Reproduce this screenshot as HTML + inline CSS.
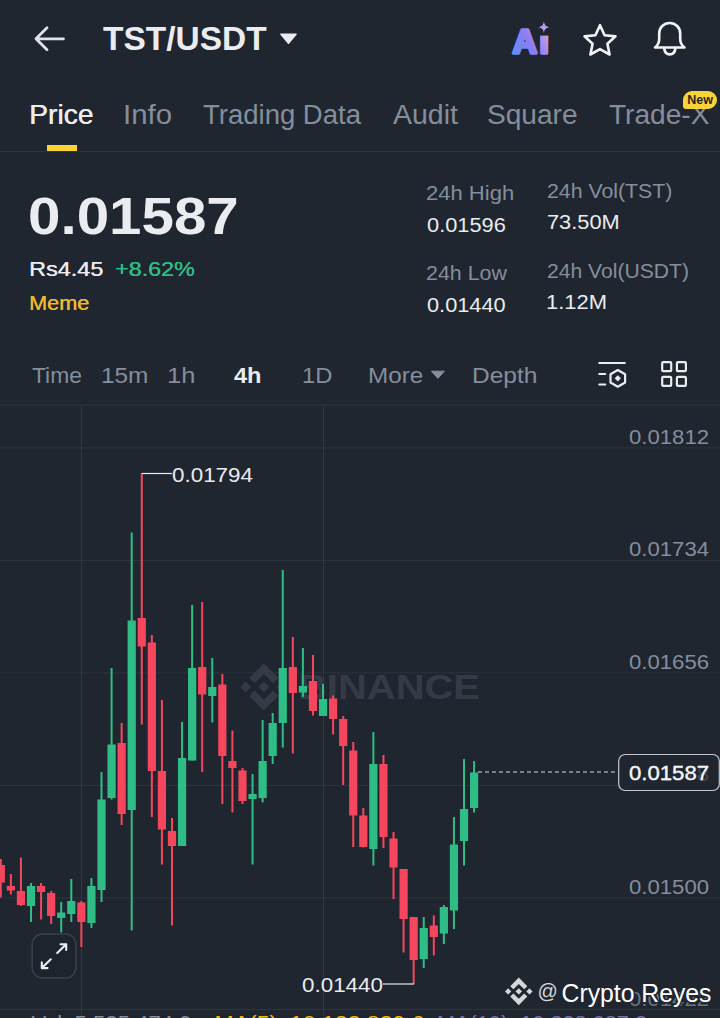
<!DOCTYPE html>
<html lang="en">
<head>
<meta charset="utf-8">
<title>TST/USDT</title>
<style>
html,body{margin:0;padding:0;}
body{width:720px;height:1018px;overflow:hidden;background:#202630;font-family:"Liberation Sans",sans-serif;color:#eaecef;position:relative;}
.abs{position:absolute;white-space:nowrap;line-height:1;}
.gray{color:#848e9c;}
.tab{position:absolute;top:99px;font-size:27px;line-height:30px;color:#848e9c;white-space:nowrap;}
.stat-l{position:absolute;font-size:20px;line-height:20px;color:#848e9c;white-space:nowrap;}
.stat-v{position:absolute;font-size:20px;line-height:20px;color:#eaecef;white-space:nowrap;}
.tt{position:absolute;top:363px;font-size:22px;line-height:24px;color:#848e9c;white-space:nowrap;}
svg{position:absolute;left:0;top:0;}
</style>
</head>
<body>

<!-- header -->
<svg width="720" height="80" viewBox="0 0 720 80">
  <!-- back arrow -->
  <path d="M63.5 38.8H36.5M47 27.8L36 38.8L47 49.8" fill="none" stroke="#dfe2e8" stroke-width="2.800" stroke-linecap="round" stroke-linejoin="round"/>
  <!-- dropdown -->
  <path d="M281 34.200H296L288.500 43.200Z" fill="#eaecef" stroke="#eaecef" stroke-width="1.500" stroke-linejoin="round"/>
  <!-- star -->
  <path d="M600 25.2l4.6 10 10.9 1.2-8.1 7.4 2.2 10.7-9.6-5.4-9.6 5.4 2.2-10.7-8.1-7.4 10.9-1.2z" fill="none" stroke="#f2f3f5" stroke-width="2.6" stroke-linejoin="round"/>
  <!-- bell -->
  <path d="M655 47.5h29.5c-2.6-2-4.3-4.600-4.300-8.500v-5.500c0-6-4.600-10.500-10.500-10.500s-10.500 4.500-10.500 10.500v5.500c0 3.900-1.700 6.500-4.200 8.500z" fill="none" stroke="#f2f3f5" stroke-width="2.6" stroke-linejoin="round"/>
  <path d="M664.200 48.500c.5 3.800 2.600 5.900 5.600 5.900s5.100-2.100 5.600-5.900" fill="none" stroke="#f2f3f5" stroke-width="2.600" stroke-linecap="round"/>
  <!-- AI -->
  <defs>
    <linearGradient id="aig" gradientUnits="userSpaceOnUse" x1="511" y1="54" x2="549" y2="30">
      <stop offset="0" stop-color="#5a92f8"/>
      <stop offset=".5" stop-color="#8c7df2"/>
      <stop offset=".8" stop-color="#b394ea"/>
      <stop offset="1" stop-color="#e6b5cf"/>
    </linearGradient>
  </defs>
  <text x="512.700" y="52.600" font-family="Liberation Sans, sans-serif" font-weight="700" font-size="33.500" fill="url(#aig)" stroke="url(#aig)" stroke-width="3.500" stroke-linejoin="round">A<tspan dx="2.500">i</tspan></text>
  <rect x="537" y="20" width="14" height="15.600" fill="#202630"/>
  <path d="M543.900 21.500c.7 3.700 1.900 4.900 5.600 5.700-3.700.8-4.900 2-5.600 5.700-.7-3.700-1.900-4.900-5.600-5.700 3.700-.8 4.900-2 5.600-5.700z" fill="#b49cf4"/>
</svg>
<div id="t_title" class="abs" style="left:103.00px;top:22.30px;font-size:32.500px;line-height:34px;font-weight:700;color:#eaecef;transform:scaleX(1.0296);transform-origin:0 0;">TST/USDT</div>

<!-- tabs -->
<div id="t_price" class="tab" style="left:29.38px;color:#eaecef;font-weight:400;text-shadow:.4px 0 0 #eaecef;top:99.70px;transform:scaleX(1.0459);transform-origin:0 0;">Price</div>
<div id="t_info" class="tab" style="left:123.31px;top:99.70px;transform:scaleX(1.0888);transform-origin:0 0;">Info</div>
<div id="t_trading" class="tab" style="left:202.83px;top:99.70px;transform:scaleX(1.0186);transform-origin:0 0;">Trading Data</div>
<div id="t_audit" class="tab" style="left:392.79px;top:99.70px;transform:scaleX(1.0554);transform-origin:0 0;">Audit</div>
<div id="t_square" class="tab" style="left:486.78px;top:99.70px;transform:scaleX(1.0404);transform-origin:0 0;">Square</div>
<div id="t_tradex" class="tab" style="left:608.77px;top:99.70px;transform:scaleX(1.0408);transform-origin:0 0;">Trade-X</div>
<div class="abs" style="left:683.200px;top:91.200px;width:33.800px;height:18px;border-radius:9px 9px 9px 3px;background:#f8d33a;color:#2a2618;font-size:12.500px;font-weight:700;line-height:18px;text-align:center;">New</div>
<div class="abs" style="left:47px;top:145px;width:30px;height:6px;background:#fcd535;"></div>
<div class="abs" style="left:0;top:151px;width:720px;height:1px;background:#2d343f;"></div>

<!-- price -->
<div id="t_big" class="abs" style="left:28.49px;top:189px;font-size:52.500px;line-height:54px;font-weight:700;color:#eaecef;transform:scaleX(1.1106);transform-origin:0 0;">0.01587</div>
<div id="t_rs" class="abs" style="left:29.45px;top:256.50px;font-size:21px;line-height:24px;color:#eaecef;text-shadow:.3px 0 0 #eaecef;transform:scaleX(1.1143);transform-origin:0 0;">Rs4.45</div>
<div id="t_pct" class="abs" style="left:115.06px;top:256.50px;font-size:21px;line-height:24px;color:#2ebd85;text-shadow:.3px 0 0 #2ebd85;transform:scaleX(1.1094);transform-origin:0 0;">+8.62%</div>
<div id="t_meme" class="abs" style="left:29.27px;top:291.50px;font-size:20px;line-height:22px;color:#ecba2c;text-shadow:.3px 0 0 #ecba2c;transform:scaleX(1.0827);transform-origin:0 0;">Meme</div>

<!-- stats -->
<div id="t_h24" class="stat-l" style="left:425.88px;top:183.00px;transform:scaleX(1.1013);transform-origin:0 0;">24h High</div>
<div id="t_h24v" class="stat-v" style="left:426.64px;top:214.80px;transform:scaleX(1.0903);transform-origin:0 0;">0.01596</div>
<div id="t_l24" class="stat-l" style="left:426.10px;top:263.00px;transform:scaleX(1.0702);transform-origin:0 0;">24h Low</div>
<div id="t_l24v" class="stat-v" style="left:426.67px;top:294.70px;transform:scaleX(1.0883);transform-origin:0 0;">0.01440</div>
<div id="t_vt" class="stat-l" style="left:546.97px;top:181.00px;transform:scaleX(1.0643);transform-origin:0 0;">24h Vol(TST)</div>
<div id="t_vtv" class="stat-v" style="left:546.68px;top:211.60px;transform:scaleX(1.0900);transform-origin:0 0;">73.50M</div>
<div id="t_vu" class="stat-l" style="left:546.97px;top:261.00px;transform:scaleX(1.0554);transform-origin:0 0;">24h Vol(USDT)</div>
<div id="t_vuv" class="stat-v" style="left:546.15px;top:292.30px;transform:scaleX(1.0985);transform-origin:0 0;">1.12M</div>

<!-- time tabs -->
<div id="t_time" class="tt" style="left:31.60px;top:364.20px;transform:scaleX(1.0375);transform-origin:0 0;">Time</div>
<div id="t_15m" class="tt" style="left:100.81px;top:364.20px;transform:scaleX(1.1073);transform-origin:0 0;">15m</div>
<div id="t_1h" class="tt" style="left:167.05px;top:364.20px;transform:scaleX(1.1574);transform-origin:0 0;">1h</div>
<div id="t_4h" class="tt" style="left:234.30px;color:#eaecef;font-weight:700;top:364.20px;transform:scaleX(1.0712);transform-origin:0 0;">4h</div>
<div id="t_1d" class="tt" style="left:301.69px;top:364.20px;transform:scaleX(1.0804);transform-origin:0 0;">1D</div>
<div id="t_more" class="tt" style="left:367.50px;top:364.20px;transform:scaleX(1.1020);transform-origin:0 0;">More</div>
<div id="t_depth" class="tt" style="left:471.64px;top:364.20px;transform:scaleX(1.1155);transform-origin:0 0;">Depth</div>

<!-- chart -->
<svg width="720" height="1018" viewBox="0 0 720 1018" style="pointer-events:none">
  <!-- more triangle -->
  <path d="M431.400 371.200H444.400L437.900 378.400Z" fill="#848e9c" stroke="#848e9c" stroke-width="1" stroke-linejoin="round"/>
  <!-- icons right of time tabs -->
  <g fill="none" stroke="#eaecef" stroke-width="2.200" stroke-linecap="round" stroke-linejoin="round">
    <path d="M599.300 363H624.800M599.300 374H605.200M599.300 384.500H605.200"/>
    <path d="M617.800 370l7.300 4.200v8.300l-7.300 4.200-7.300-4.200v-8.300z"/>
    <rect x="662.200" y="362.200" width="9" height="9" rx="1"/>
    <rect x="676.900" y="362.200" width="9" height="9" rx="1"/>
    <rect x="662.200" y="376.900" width="9" height="9" rx="1"/>
    <rect x="676.900" y="376.900" width="9" height="9" rx="1"/>
  </g>
  <path d="M617.800 375.200l3.100 3.100-3.100 3.100-3.100-3.100z" fill="#eaecef"/>

  <!-- grid -->
  <g stroke="#2d3540" stroke-width="1">
    <path d="M0 405H720M0 447.900H720M0 560.400H720M0 672.900H720M0 785.400H720M0 897.900H720M0 1009.500H720"/>
    <path d="M81.500 405V1018M323.500 405V1018" stroke="#303843"/>
  </g>

  <!-- watermark -->
  <g fill="#353b46">
    <path transform="translate(240.2 663.3) scale(0.377)" d="M38.171 53.203L62.759 28.616l24.6 24.6 14.3-14.3L62.759 0 23.871 38.903zM0 62.759l14.3-14.3 14.3 14.3-14.3 14.3zM38.171 72.316L62.759 96.903l24.6-24.6 14.308 14.29-.007.008L62.759 125.518 23.871 86.616l-.02-.02zM96.918 62.763l14.3-14.3 14.3 14.3-14.3 14.3zM77.271 62.747h.006L62.759 48.229 52.03 58.958l-1.233 1.232-2.543 2.543-.02.02.02.021 14.505 14.505 14.518-14.518.007-.008z"/>
  </g>
  <text x="298" y="699.400" font-family="Liberation Sans, sans-serif" font-weight="700" font-size="35" fill="#353b46" textLength="182" lengthAdjust="spacingAndGlyphs">BINANCE</text>

  <!-- candles -->
  <rect x="-0.20" y="859" width="2.0" height="38.5" fill="#f6465d"/>
<rect x="-3.30" y="865" width="8.2" height="17.5" fill="#f6465d"/>
<rect x="9.87" y="874" width="2.0" height="20.5" fill="#f6465d"/>
<rect x="6.77" y="886" width="8.2" height="4.5" fill="#f6465d"/>
<rect x="19.94" y="857.5" width="2.0" height="48.5" fill="#f6465d"/>
<rect x="16.84" y="891" width="8.2" height="14.0" fill="#f6465d"/>
<rect x="30.01" y="883" width="2.0" height="39.0" fill="#2ebd85"/>
<rect x="26.91" y="886" width="8.2" height="20.0" fill="#2ebd85"/>
<rect x="40.08" y="883" width="2.0" height="36.5" fill="#f6465d"/>
<rect x="36.98" y="886" width="8.2" height="6.0" fill="#f6465d"/>
<rect x="50.15" y="891" width="2.0" height="33.0" fill="#f6465d"/>
<rect x="47.05" y="893" width="8.2" height="23.0" fill="#f6465d"/>
<rect x="60.22" y="902" width="2.0" height="30.5" fill="#2ebd85"/>
<rect x="57.12" y="912.5" width="8.2" height="5.5" fill="#2ebd85"/>
<rect x="70.29" y="879" width="2.0" height="43.0" fill="#2ebd85"/>
<rect x="67.19" y="901" width="8.2" height="13.0" fill="#2ebd85"/>
<rect x="80.36" y="901" width="2.0" height="46.0" fill="#f6465d"/>
<rect x="77.26" y="902.5" width="8.2" height="19.5" fill="#f6465d"/>
<rect x="90.43" y="878" width="2.0" height="50.0" fill="#2ebd85"/>
<rect x="87.33" y="886" width="8.2" height="37.0" fill="#2ebd85"/>
<rect x="100.50" y="772" width="2.0" height="130.0" fill="#2ebd85"/>
<rect x="97.40" y="799.5" width="8.2" height="90.5" fill="#2ebd85"/>
<rect x="110.57" y="668" width="2.0" height="131.5" fill="#2ebd85"/>
<rect x="107.47" y="744.5" width="8.2" height="53.5" fill="#2ebd85"/>
<rect x="120.64" y="723" width="2.0" height="102.0" fill="#f6465d"/>
<rect x="117.54" y="743" width="8.2" height="71.0" fill="#f6465d"/>
<rect x="130.71" y="532.5" width="2.0" height="398.0" fill="#2ebd85"/>
<rect x="127.61" y="620.5" width="8.2" height="189.5" fill="#2ebd85"/>
<rect x="140.78" y="473" width="2.0" height="251.5" fill="#f6465d"/>
<rect x="137.68" y="618" width="8.2" height="28.5" fill="#f6465d"/>
<rect x="150.85" y="635" width="2.0" height="182.0" fill="#f6465d"/>
<rect x="147.75" y="642.5" width="8.2" height="128.5" fill="#f6465d"/>
<rect x="160.92" y="700" width="2.0" height="164.5" fill="#f6465d"/>
<rect x="157.82" y="771" width="8.2" height="58.5" fill="#f6465d"/>
<rect x="170.99" y="818" width="2.0" height="107.5" fill="#f6465d"/>
<rect x="167.89" y="831" width="8.2" height="15.0" fill="#f6465d"/>
<rect x="181.06" y="722" width="2.0" height="124.0" fill="#2ebd85"/>
<rect x="177.96" y="758" width="8.2" height="88.0" fill="#2ebd85"/>
<rect x="191.13" y="605" width="2.0" height="155.5" fill="#2ebd85"/>
<rect x="188.03" y="668" width="8.2" height="92.5" fill="#2ebd85"/>
<rect x="201.20" y="602" width="2.0" height="170.0" fill="#f6465d"/>
<rect x="198.10" y="667" width="8.2" height="27.5" fill="#f6465d"/>
<rect x="211.27" y="658" width="2.0" height="64.5" fill="#2ebd85"/>
<rect x="208.17" y="687" width="8.2" height="9.0" fill="#2ebd85"/>
<rect x="221.34" y="674" width="2.0" height="130.0" fill="#f6465d"/>
<rect x="218.24" y="684.5" width="8.2" height="71.5" fill="#f6465d"/>
<rect x="231.41" y="730.5" width="2.0" height="82.0" fill="#f6465d"/>
<rect x="228.31" y="761" width="8.2" height="7.0" fill="#f6465d"/>
<rect x="241.48" y="768" width="2.0" height="36.0" fill="#f6465d"/>
<rect x="238.38" y="770.5" width="8.2" height="30.5" fill="#f6465d"/>
<rect x="251.55" y="774" width="2.0" height="90.5" fill="#2ebd85"/>
<rect x="248.45" y="794" width="8.2" height="5.0" fill="#2ebd85"/>
<rect x="261.62" y="720" width="2.0" height="82.5" fill="#2ebd85"/>
<rect x="258.52" y="761" width="8.2" height="37.0" fill="#2ebd85"/>
<rect x="271.69" y="713" width="2.0" height="51.0" fill="#2ebd85"/>
<rect x="268.59" y="723" width="8.2" height="33.0" fill="#2ebd85"/>
<rect x="281.76" y="570" width="2.0" height="177.5" fill="#2ebd85"/>
<rect x="278.66" y="668" width="8.2" height="55.0" fill="#2ebd85"/>
<rect x="291.83" y="637" width="2.0" height="116.5" fill="#f6465d"/>
<rect x="288.73" y="667" width="8.2" height="26.0" fill="#f6465d"/>
<rect x="301.90" y="648" width="2.0" height="49.0" fill="#2ebd85"/>
<rect x="298.80" y="686" width="8.2" height="6.5" fill="#2ebd85"/>
<rect x="311.97" y="655" width="2.0" height="60.5" fill="#f6465d"/>
<rect x="308.87" y="681" width="8.2" height="30.0" fill="#f6465d"/>
<rect x="322.04" y="684" width="2.0" height="32.0" fill="#2ebd85"/>
<rect x="318.94" y="699" width="8.2" height="17.0" fill="#2ebd85"/>
<rect x="332.11" y="695.5" width="2.0" height="39.0" fill="#f6465d"/>
<rect x="329.01" y="698.5" width="8.2" height="20.5" fill="#f6465d"/>
<rect x="342.18" y="716" width="2.0" height="69.0" fill="#f6465d"/>
<rect x="339.08" y="719" width="8.2" height="27.0" fill="#f6465d"/>
<rect x="352.25" y="742" width="2.0" height="105.0" fill="#f6465d"/>
<rect x="349.15" y="750.5" width="8.2" height="65.0" fill="#f6465d"/>
<rect x="362.32" y="808" width="2.0" height="39.5" fill="#f6465d"/>
<rect x="359.22" y="815.5" width="8.2" height="31.5" fill="#f6465d"/>
<rect x="372.39" y="732" width="2.0" height="133.5" fill="#2ebd85"/>
<rect x="369.29" y="764" width="8.2" height="85.0" fill="#2ebd85"/>
<rect x="382.46" y="755" width="2.0" height="93.0" fill="#f6465d"/>
<rect x="379.36" y="764" width="8.2" height="73.0" fill="#f6465d"/>
<rect x="392.53" y="832" width="2.0" height="67.0" fill="#f6465d"/>
<rect x="389.43" y="838.5" width="8.2" height="29.0" fill="#f6465d"/>
<rect x="402.60" y="869" width="2.0" height="83.5" fill="#f6465d"/>
<rect x="399.50" y="869" width="8.2" height="50.0" fill="#f6465d"/>
<rect x="412.67" y="917" width="2.0" height="67.0" fill="#f6465d"/>
<rect x="409.57" y="917" width="8.2" height="43.0" fill="#f6465d"/>
<rect x="422.74" y="917" width="2.0" height="51.0" fill="#2ebd85"/>
<rect x="419.64" y="928" width="8.2" height="31.0" fill="#2ebd85"/>
<rect x="432.81" y="915.5" width="2.0" height="40.0" fill="#f6465d"/>
<rect x="429.71" y="925.5" width="8.2" height="11.5" fill="#f6465d"/>
<rect x="442.88" y="905" width="2.0" height="39.0" fill="#2ebd85"/>
<rect x="439.78" y="907" width="8.2" height="26.5" fill="#2ebd85"/>
<rect x="452.95" y="817" width="2.0" height="112.0" fill="#2ebd85"/>
<rect x="449.85" y="844.5" width="8.2" height="66.0" fill="#2ebd85"/>
<rect x="463.02" y="759" width="2.0" height="106.5" fill="#2ebd85"/>
<rect x="459.92" y="809" width="8.2" height="32.0" fill="#2ebd85"/>
<rect x="473.09" y="761" width="2.0" height="51.5" fill="#2ebd85"/>
<rect x="469.99" y="772.5" width="8.2" height="35.5" fill="#2ebd85"/>

  <!-- high / low labels -->
  <path d="M142 473.500H172" stroke="#eaecef" stroke-width="1.200"/>
  <text x="172" y="482" font-family="Liberation Sans, sans-serif" font-size="20" fill="#eaecef" textLength="81" lengthAdjust="spacingAndGlyphs">0.01794</text>
  <path d="M383 984H414" stroke="#eaecef" stroke-width="1.200"/>
  <text x="302" y="992" font-family="Liberation Sans, sans-serif" font-size="20" fill="#eaecef" textLength="81" lengthAdjust="spacingAndGlyphs">0.01440</text>

  <!-- axis labels -->
  <g font-family="Liberation Sans, sans-serif" font-size="20" fill="#848e9c">
    <text x="629" y="443.500" textLength="80" lengthAdjust="spacingAndGlyphs">0.01812</text>
    <text x="629" y="556" textLength="80" lengthAdjust="spacingAndGlyphs">0.01734</text>
    <text x="629" y="668.500" textLength="80" lengthAdjust="spacingAndGlyphs">0.01656</text>
    <text x="629" y="893.500" textLength="80" lengthAdjust="spacingAndGlyphs">0.01500</text>
    <text x="629" y="1006" textLength="80" lengthAdjust="spacingAndGlyphs" fill="#6b7482">0.01422</text>
  </g>

  <!-- current price -->
  <path d="M478 772H618" stroke="#d5d8dd" stroke-width="1.200" stroke-dasharray="4 3"/>
  <rect x="618.700" y="754.500" width="100.600" height="36" rx="6.500" fill="#202630" stroke="#c5c9cf" stroke-width="1.200"/>
  <text x="629" y="781.300" font-family="Liberation Sans, sans-serif" font-size="20" fill="#848e9c" opacity=".3" textLength="80" lengthAdjust="spacingAndGlyphs">0.01578</text>
  <text x="629" y="780" font-family="Liberation Sans, sans-serif" font-size="20" fill="#f5f6f7" stroke="#f5f6f7" stroke-width=".350" textLength="80" lengthAdjust="spacingAndGlyphs">0.01587</text>

  <!-- expand button -->
  <rect x="32.200" y="934" width="43.800" height="44" rx="10.500" fill="#1e242d" stroke="#38404b" stroke-width="1.500"/>
  <g fill="none" stroke="#eceef1" stroke-width="2.100" stroke-linecap="round" stroke-linejoin="round">
    <path d="M57.200 953L66.200 944.300M60.500 944.300H66.200V950"/>
    <path d="M50.800 959.300L41.800 968.100M47.500 968.100H41.800V962.400"/>
  </g>

  <!-- bottom cut-off volume text -->
  <g font-family="Liberation Sans, sans-serif" font-size="20">
    <text x="31.500" y="1030" fill="#848e9c" textLength="160" lengthAdjust="spacingAndGlyphs">Vol: 5,525,474.9</text>
    <text x="214.500" y="1030" fill="#f0b90b" textLength="210" lengthAdjust="spacingAndGlyphs">MA(5): 10,123,839.6</text>
    <text x="437" y="1030" fill="#7772a8" textLength="210" lengthAdjust="spacingAndGlyphs">MA(10): 10,338,087.3</text>
  </g>

  <!-- author watermark -->
  <g fill="#d4d6da" stroke="#202630" stroke-width="3" paint-order="stroke">
    <path transform="translate(505 977.6) scale(0.2195)" d="M38.171 53.203L62.759 28.616l24.6 24.6 14.3-14.3L62.759 0 23.871 38.903zM0 62.759l14.3-14.3 14.3 14.3-14.3 14.3zM38.171 72.316L62.759 96.903l24.6-24.6 14.308 14.29-.007.008L62.759 125.518 23.871 86.616l-.02-.02zM96.918 62.763l14.3-14.3 14.3 14.3-14.3 14.3zM77.271 62.747h.006L62.759 48.229 52.03 58.958l-1.233 1.232-2.543 2.543-.02.02.02.021 14.505 14.505 14.518-14.518.007-.008z"/>
  </g>
  <text x="537.500" y="998" font-family="Liberation Sans, sans-serif" font-size="20" fill="#d4d6da" stroke="#202630" stroke-width="2.500" paint-order="stroke">@</text>
  <text x="561.500" y="1002" font-family="Liberation Sans, sans-serif" font-size="25" fill="#ffffff" stroke="#202630" stroke-width="3" paint-order="stroke" textLength="150" lengthAdjust="spacingAndGlyphs">Crypto Reyes</text>
</svg>

</body>
</html>
